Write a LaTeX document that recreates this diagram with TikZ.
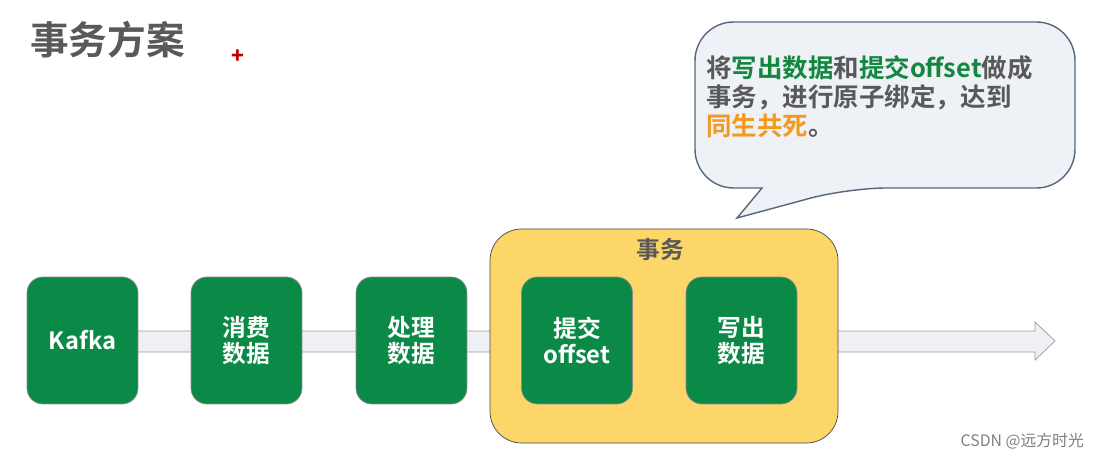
\documentclass[tikz,border=0pt]{standalone}
\usepackage{fontspec}
\setmainfont{Noto Sans CJK SC}
\newfontfamily\cjkb{Noto Sans CJK SC Bold}
\usetikzlibrary{positioning}
\definecolor{boxgreen}{HTML}{0B8A47}
\definecolor{txgreen}{HTML}{13873F}
\definecolor{txorange}{HTML}{F39A1E}
\definecolor{txgrey}{HTML}{595959}
\definecolor{tryellow}{HTML}{FDD66A}
\definecolor{bandfill}{HTML}{EEF0F4}
\definecolor{callfill}{HTML}{EEF1F5}
\definecolor{callline}{HTML}{56677E}
\tikzset{
  stagebox/.style={draw=txgrey!70, fill=boxgreen, rounded corners=9pt, minimum width=2.22cm,
    minimum height=2.54cm, text=white, font=\cjkb\fontsize{13.5}{15}\selectfont, align=center},
}
\begin{document}
\begin{tikzpicture}[x=0.02cm,y=-0.02cm]
  \useasboundingbox (0,0) rectangle (1097,462);
  % title
  \node[anchor=west, text=txgrey, font=\cjkb\fontsize{22}{24}\selectfont] (title) at (24,40) {事务方案};
  \node[text=red!75!black, font=\bfseries\large] (plus) at (238,57) {+};
  % band arrow
  \draw[draw=txgrey!60, fill=bandfill] (80,331) -- (1035,331) -- (1035,322) -- (1055,341)
    -- (1035,360) -- (1035,352) -- (80,352) -- cycle;
  % transaction box
  \draw[draw=txgrey!80!black, fill=tryellow, rounded corners=18pt] (490,229) rectangle (838,443);
  \node[text=txgrey, font=\cjkb\fontsize{13.5}{15}\selectfont] (txlabel) at (660,249) {事务};
  % stages
  \node[stagebox] (kafka) at (82.5,340.5) {Kafka};
  \node[stagebox] (consume) at (246.5,340.5) {消费\\数据};
  \node[stagebox] (process) at (411.5,340.5) {处理\\数据};
  \node[stagebox] (commit) at (577,340.5) {提交\\offset};
  \node[stagebox] (write) at (741.5,340.5) {写出\\数据};
  % callout
  \draw[draw=callline, fill=callfill, thick, rounded corners=22pt]
    (695,22) -- (1075,22) -- (1075,188) -- (848,188) [sharp corners] -- (737,218)
    -- (762,188) [rounded corners=22pt] -- (695,188) -- cycle;
  \node[anchor=north west, align=left, text=txgrey, font=\cjkb\fontsize{14.5}{16.5}\selectfont]
    (note) at (700,49) {将\textcolor{txgreen}{写出数据}和\textcolor{txgreen}{提交offset}做成\\
    事务，进行原子绑定，达到\\ \textcolor{txorange}{同生共死}。};
  \node[anchor=south east, text=gray, font=\fontsize{9}{11}\selectfont] (mark) at (1090,455) {CSDN @远方时光};
\end{tikzpicture}
\end{document}
